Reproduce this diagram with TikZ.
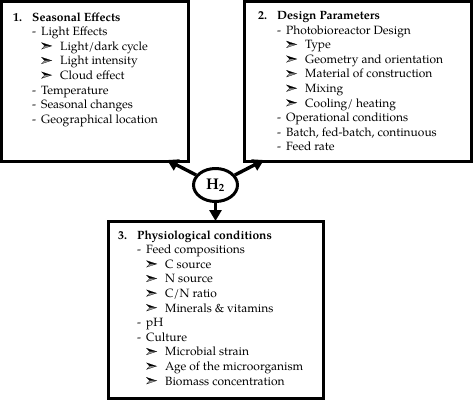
\documentclass[tikz,border=0pt]{standalone}
\usepackage{fontspec}
\setmainfont{TeX Gyre Pagella}
\usetikzlibrary{shapes.geometric,arrows.meta}
\tikzset{
  frame/.style={draw=black, line width=3pt},
  txt/.style={anchor=base west, inner sep=0pt, font=\fontsize{12}{14}\selectfont},
  hdtxt/.style={txt, font=\fontsize{12}{14}\selectfont\bfseries},
  bultop/.style={fill=black, draw=black, line width=0.2pt, line join=miter},
  bullow/.style={fill=black!40, draw=black, line width=0.2pt, line join=miter},
  hub/.style={ellipse, draw=black, line width=3pt, minimum width=44pt, minimum height=33pt, inner sep=0pt, font=\fontsize{15.5}{17}\selectfont\bfseries},
  conn/.style={line width=3.4pt, -{Triangle[length=11pt,width=12pt]}}
}
\newcommand\rowH[5]{%
  \node[hdtxt] (#1n) at (#2,{#3+4}) {#4};
  \node[hdtxt] (#1t) at ({#2+19},{#3+4}) {#5};}
\newcommand\rowD[4]{%
  \node[txt] (#1d) at ({#2+19},{#3+4}) {-};
  \node[txt] (#1t) at ({#2+28},{#3+4}) {#4};}
\newcommand\rowA[4]{%
  \coordinate (#1a) at ({#2+28.5},{#3-0.3});
  \fill[bultop] (#1a) ++(0,-3.3) -- ++(10,3.3) -- ++(-6.8,0) -- cycle;
  \fill[bullow] (#1a) ++(3.2,0) -- ++(6.8,0) -- ++(-10,3.3) -- cycle;
  \node[txt] (#1t) at ({#2+47},{#3+4}) {#4};}
\begin{document}
\begin{tikzpicture}[x=1pt,y=-1pt]
\useasboundingbox (0,0) rectangle (474,400);
% boxes
\draw[frame] (1.5,1.5) rectangle (188.5,161.5);
\draw[frame] (244.5,1.5) rectangle (471.5,161.5);
\draw[frame] (108.5,221.5) rectangle (323.5,398.5);
% box 1
\rowH{a1}{13}{17}{1.}{Seasonal Effects}
\rowD{a2}{13}{31.6}{Light Effects}
\rowA{a3}{13}{46.2}{Light/dark cycle}
\rowA{a4}{13}{60.8}{Light intensity}
\rowA{a5}{13}{75.4}{Cloud effect}
\rowD{a6}{13}{90}{Temperature}
\rowD{a7}{13}{104.6}{Seasonal changes}
\rowD{a8}{13}{119.2}{Geographical location}
% box 2
\rowH{c1}{258}{15.5}{2.}{Design Parameters}
\rowD{c2}{258}{30.1}{Photobioreactor Design}
\rowA{c3}{258}{44.7}{Type}
\rowA{c4}{258}{59.3}{Geometry and orientation}
\rowA{c5}{258}{73.9}{Material of construction}
\rowA{c6}{258}{88.5}{Mixing}
\rowA{c7}{258}{103.1}{Cooling/ heating}
\rowD{c8}{258}{117.7}{Operational conditions}
\rowD{c9}{258}{132.3}{Batch, fed-batch, continuous}
\rowD{c10}{258}{146.9}{Feed rate}
% box 3
\rowH{d1}{118}{235}{3.}{Physiological conditions}
\rowD{d2}{118}{249.6}{Feed compositions}
\rowA{d3}{118}{264.2}{C source}
\rowA{d4}{118}{278.8}{N source}
\rowA{d5}{118}{293.4}{C/N ratio}
\rowA{d6}{118}{308}{Minerals \& vitamins}
\rowD{d7}{118}{322.6}{pH}
\rowD{d8}{118}{337.2}{Culture}
\rowA{d9}{118}{351.8}{Microbial strain}
\rowA{d10}{118}{366.4}{Age of the microorganism}
\rowA{d11}{118}{381}{Biomass concentration}
% hub
\node[hub] (h2) at (215.5,185) {H\textsubscript{2}};
\coordinate (t1) at (167,160);
\coordinate (t2) at (264,160);
\coordinate (t3) at (215.5,221);
\draw[conn] (h2) -- (t1);
\draw[conn] (h2) -- (t2);
\draw[conn] (h2) -- (t3);
\end{tikzpicture}
\end{document}
